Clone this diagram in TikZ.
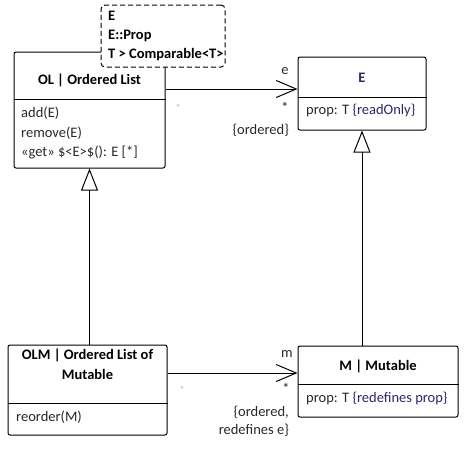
\documentclass[tikz,border=0pt]{standalone}
\usepackage{fontspec}
\setmainfont{Carlito}
\usetikzlibrary{arrows.meta,calc}
\definecolor{txtgray}{RGB}{40,40,48}
\definecolor{cstr}{RGB}{45,40,105}
\definecolor{faint}{RGB}{175,175,182}

\tikzset{
  classbox/.style={draw, line width=1pt, rounded corners=2pt, fill=white, inner sep=0pt},
  tmplbox/.style={draw, line width=1pt, rounded corners=4pt, fill=white, inner sep=0pt, dash pattern=on 5pt off 3pt},
  head/.style={font=\fontsize{14.5}{20}\selectfont\bfseries, align=center, inner sep=0pt, anchor=mid},
  memb/.style={font=\fontsize{14.5}{19.5}\selectfont, text=txtgray, inner sep=0pt, anchor=mid west},
  tpar/.style={font=\fontsize{14.5}{19}\selectfont\bfseries, inner sep=0pt, anchor=mid west},
  rlab/.style={font=\fontsize{14.5}{18}\selectfont, text=txtgray, inner sep=0pt, align=right, anchor=mid east},
  ghost/.style={font=\fontsize{10}{10}\selectfont, text=faint, inner sep=0pt},
  gen/.style={line width=1pt, -{Triangle[open, length=22pt, width=17pt]}},
  assoc/.style={line width=1pt, -{Straight Barb[length=20pt, width=17pt, line width=1pt]}}
}

\begin{document}
\begin{tikzpicture}[x=1pt,y=-1pt]
\useasboundingbox (0,0) rectangle (474,451);

% classes
\node[classbox, minimum width=151pt, minimum height=116pt] (OL) at (89.5,110) {};
\node[classbox, minimum width=128pt, minimum height=73pt] (E) at (362,93.5) {};
\node[classbox, minimum width=159pt, minimum height=90pt] (OLM) at (87.5,390) {};
\node[classbox, minimum width=160pt, minimum height=71pt] (M) at (378,381.5) {};

\draw[line width=1pt] (OL.west |- 0,99) -- (OL.east |- 0,99);
\draw[line width=1pt] (E.west |- 0,97) -- (E.east |- 0,97);
\draw[line width=1pt] (OLM.west |- 0,403) -- (OLM.east |- 0,403);
\draw[line width=1pt] (M.west |- 0,384) -- (M.east |- 0,384);

% template parameters
\node[tmplbox, minimum width=124pt, minimum height=62pt] (tmpl) at (163,36) {};
\node[tpar] (tE) at (108,18) {E};
\node[tpar] (tP) at (108,37) {E::Prop};
\node[tpar] (tT) at (108,56) {T > Comparable<T>};

% names
\node[head] (OLname) at (89.5,82) {OL | Ordered List};
\node[head, text=cstr] (Ename) at (362,80) {E};
\node[head] (OLMname) at (87.5,377) {OLM | Ordered List of\\Mutable};
\node[head] (Mname) at (378,368) {M | Mutable};

% members
\node[memb] (add) at (21,115) {add(E)};
\node[memb] (rem) at (21,135) {remove(E)};
\node[memb] (get) at (21,154) {«get» \$<E>\$(): E [*]};
\node[memb] (prop) at (306,112) {prop: T {\color{cstr}\{readOnly\}}};
\node[memb] (reord) at (16,419) {reorder(M)};
\node[memb] (mprop) at (306,400) {prop: T {\color{cstr}\{redefines prop\}}};

% generalizations
\draw[gen] (OLM.north -| OL.south) -- (OL.south);
\draw[gen] (M.north -| E.south) -- (E.south);

% associations
\coordinate (eA) at (E.west |- 0,89);
\coordinate (mA) at (M.west |- 0,373);
\draw[assoc] (OL.east |- eA) -- (eA);
\draw[assoc] (OLM.east |- mA) -- (mA);

\node[rlab, anchor=mid] (eRole) at (285,72) {e};
\node[rlab, anchor=mid] (eMult) at (285,110) {*};
\node[rlab] (eCon) at (289,132) {\{ordered\}};
\node[ghost] (eSrc) at (178,108) {*};

\node[rlab, anchor=mid] (mRole) at (287,355) {m};
\node[rlab, anchor=mid] (mMult) at (286,391) {*};
\node[rlab, anchor=north east] (mCon) at (289,406) {\{ordered,\\redefines e\}};
\node[ghost] (mSrc) at (182,390) {*};
\end{tikzpicture}
\end{document}
